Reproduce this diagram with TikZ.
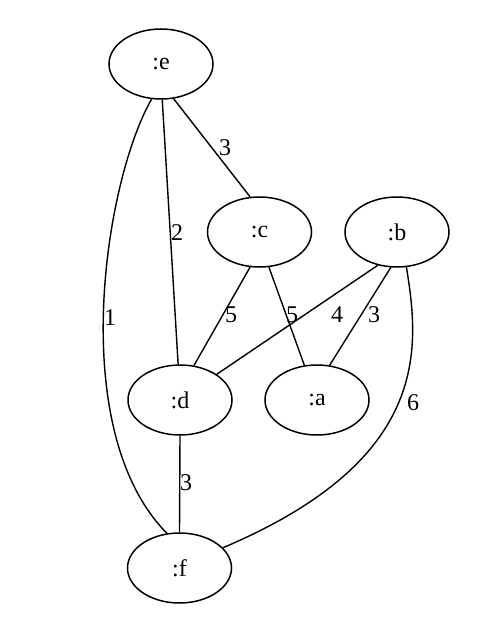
\documentclass[tikz,border=0pt]{standalone}
\usepackage{fontspec}
\setmainfont{Liberation Serif}
\usetikzlibrary{shapes.geometric}
\begin{document}
\begin{tikzpicture}[x=1pt,y=-1pt,
  vert/.style={draw,line width=1.5pt,ellipse,minimum width=104pt,minimum height=70pt,inner sep=0pt,font=\fontsize{24}{26}\selectfont},
  edge/.style={line width=1.4pt},
  lbl/.style={inner sep=0pt,font=\fontsize{24}{26}\selectfont}]
\useasboundingbox (0,0) rectangle (487,639);
\node[vert] (e) at (161,64) {:e};
\node[vert] (c) at (259.5,232) {:c};
\node[vert] (b) at (397,232) {:b};
\node[vert] (d) at (180,400) {:d};
\node[vert] (a) at (317,400) {:a};
\node[vert] (f) at (179.5,568) {:f};
\draw[edge] (e.-70) -- (c.105);
\draw[edge] (e.-88) -- (d.93);
\draw[edge] (e.-105) .. controls (105,180) and (65,430) .. (f.110);
\draw[edge] (c.-105) -- (d.68);
\draw[edge] (c.-75) -- (a.110);
\draw[edge] (b.-120) -- (d.35);
\draw[edge] (b.-100) -- (a.70);
\draw[edge] (b.-75) .. controls (420,350) and (430,460) .. (f.25);
\draw[edge] (d.-90) -- (f.90);
\node[lbl] (l1) at (225,148) {3};
\node[lbl] (l2) at (177,233) {2};
\node[lbl] (l3) at (110,318) {1};
\node[lbl] (l4) at (231,315) {5};
\node[lbl] (l5) at (292,315) {5};
\node[lbl] (l6) at (337,315) {4};
\node[lbl] (l7) at (374,315) {3};
\node[lbl] (l8) at (413,403) {6};
\node[lbl] (l9) at (186,483) {3};
\end{tikzpicture}
\end{document}
